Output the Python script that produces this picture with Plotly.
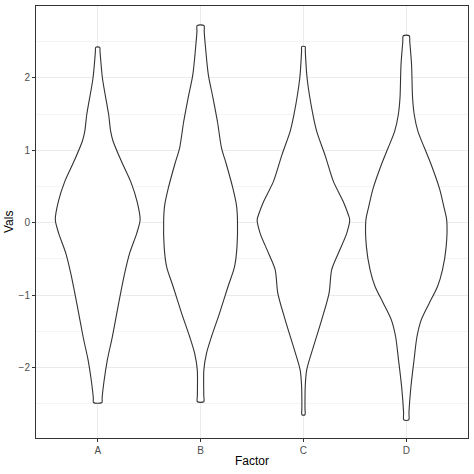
import plotly.graph_objects as go

# Categories and tick labels
factors = ["A", "B", "C", "D"]
y_tickvals = [-2, -1, 0, 1, 2]
y_ticktext = ["\u22122", "\u22121", "0", "1", "2"]
x_title = "Factor"
y_title = "Vals"

# Density profiles (y value, scaled violin width 0..1)
a_y = [2.42, 2.36, 1.99, 1.49, 1.26, 1.12, 0.84, 0.57, 0.29, 0.04, -0.15, -0.42, -0.70, -1.11, -1.57, -1.89, -2.17, -2.42, -2.48]
a_w = [0.043, 0.050, 0.103, 0.237, 0.280, 0.334, 0.517, 0.711, 0.851, 0.916, 0.841, 0.690, 0.582, 0.453, 0.317, 0.209, 0.140, 0.095, 0.091]

b_y = [2.72, 2.64, 2.41, 2.04, 1.72, 1.39, 1.03, 0.80, 0.47, 0.24, 0.04, -0.33, -0.61, -0.88, -1.25, -1.57, -1.80, -2.03, -2.38, -2.47]
b_w = [0.075, 0.078, 0.108, 0.168, 0.269, 0.366, 0.453, 0.560, 0.700, 0.776, 0.797, 0.787, 0.733, 0.593, 0.409, 0.237, 0.129, 0.071, 0.069, 0.069]

c_y = [2.43, 2.37, 1.99, 1.49, 1.26, 0.93, 0.57, 0.29, 0.11, 0.04, -0.15, -0.42, -0.65, -0.97, -1.34, -1.71, -2.03, -2.26, -2.55, -2.65]
c_w = [0.037, 0.040, 0.080, 0.205, 0.287, 0.468, 0.647, 0.862, 0.970, 1.0, 0.933, 0.754, 0.610, 0.554, 0.394, 0.216, 0.071, 0.039, 0.033, 0.032]

d_y = [2.58, 2.50, 2.18, 1.72, 1.49, 1.26, 1.03, 0.80, 0.47, 0.20, 0.04, -0.33, -0.65, -0.88, -1.11, -1.34, -1.57, -1.89, -2.26, -2.62, -2.72]
d_w = [0.065, 0.075, 0.114, 0.136, 0.172, 0.252, 0.394, 0.539, 0.718, 0.819, 0.873, 0.862, 0.782, 0.675, 0.496, 0.323, 0.231, 0.168, 0.101, 0.058, 0.054]

profiles = [(a_y, a_w), (b_y, b_w), (c_y, c_w), (d_y, d_w)]
max_half = 0.45  # ggplot violin width 0.9

fig = go.Figure()
for i, (ys, ws) in enumerate(profiles):
    pos = i + 1
    left_x = [pos - max_half * w for w in ws]
    right_x = [pos + max_half * w for w in ws]
    xs = left_x + right_x[::-1] + [left_x[0]]
    yy = list(ys) + list(ys)[::-1] + [ys[0]]
    fig.add_trace(go.Scatter(
        x=xs, y=yy, mode="lines", fill="toself", fillcolor="white",
        line=dict(color="#333333", width=1.1, shape="spline", smoothing=0.8),
        hoverinfo="skip", showlegend=False, name=factors[i]))

font_family = "Liberation Sans, Arial, sans-serif"
fig.update_layout(
    width=474, height=474,
    margin=dict(l=36, r=6, t=6, b=36, autoexpand=False),
    paper_bgcolor="white", plot_bgcolor="white",
    font=dict(family=font_family),
    showlegend=False,
    annotations=[
        dict(text=x_title, xref="paper", yref="paper", x=0.5, y=-0.053,
             xanchor="center", yanchor="middle", showarrow=False,
             font=dict(size=12, color="black")),
        dict(text=y_title, xref="paper", yref="paper", x=-0.0625, y=0.5,
             xanchor="center", yanchor="middle", showarrow=False, textangle=-90,
             font=dict(size=12, color="black")),
    ],
)
fig.update_xaxes(
    range=[0.4, 4.6], tickmode="array", tickvals=[1, 2, 3, 4], ticktext=factors,
    showgrid=True, gridcolor="#EBEBEB", gridwidth=1,
    showline=True, mirror=True, linecolor="#333333", linewidth=1,
    ticks="outside", ticklen=3, tickcolor="#333333", tickwidth=1,
    tickfont=dict(size=10, color="#4D4D4D"),
    automargin=False, zeroline=False,
)
fig.update_yaxes(
    range=[-2.97, 2.99], tickmode="array", tickvals=y_tickvals, ticktext=y_ticktext,
    showgrid=True, gridcolor="#EBEBEB", gridwidth=1,
    minor=dict(tickmode="array", tickvals=[-2.5, -1.5, -0.5, 0.5, 1.5, 2.5],
               showgrid=True, gridcolor="#F4F4F4", gridwidth=1, ticks=""),
    showline=True, mirror=True, linecolor="#333333", linewidth=1,
    ticks="outside", ticklen=3, tickcolor="#333333", tickwidth=1,
    tickfont=dict(size=10, color="#4D4D4D"),
    automargin=False, zeroline=False,
)

fig.write_html("out.html", config={"displayModeBar": False},
               post_script="document.body.style.margin='0';")
